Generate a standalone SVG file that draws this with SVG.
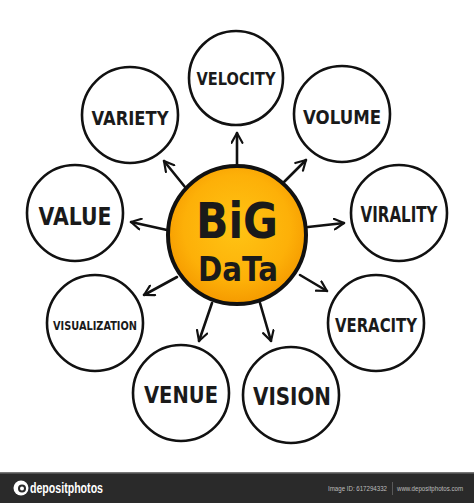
<svg xmlns="http://www.w3.org/2000/svg" width="474" height="503" viewBox="0 0 474 503">
<defs>
<style>
.node{fill:#fff;stroke:#111;stroke-width:2.6}
.lbl{font-family:"DejaVu Sans","Liberation Sans",sans-serif;font-weight:bold;fill:#1a1a1a;text-anchor:middle}
.conn{stroke:#111;stroke-width:2.6;fill:none;stroke-linecap:round;marker-end:url(#arr)}
.big{font-family:"DejaVu Sans","Liberation Sans",sans-serif;font-weight:bold;fill:#1a1a1a;text-anchor:middle}
.foot{font-family:"Liberation Sans",Arial,sans-serif}
</style>
<marker id="arr" viewBox="0 0 12 12" refX="10" refY="6" markerWidth="5" markerHeight="5" orient="auto" markerUnits="strokeWidth">
<path d="M1,1 L10,6 L1,11" fill="none" stroke="#111" stroke-width="2" stroke-linecap="round" stroke-linejoin="round"/>
</marker>
<radialGradient id="og" cx="50%" cy="45%" r="55%">
<stop offset="0" stop-color="#FFC414"/>
<stop offset="0.7" stop-color="#FDB008"/>
<stop offset="1" stop-color="#F59A00"/>
</radialGradient>
</defs>
<rect width="474" height="503" fill="#fff"/>
<g id="connectors">
<line class="conn" x1="237" y1="165" x2="237" y2="133"/>
<line class="conn" x1="185" y1="187" x2="164" y2="161"/>
<line class="conn" x1="283" y1="183" x2="306" y2="160"/>
<line class="conn" x1="167" y1="230" x2="131" y2="222"/>
<line class="conn" x1="308" y1="227" x2="344" y2="223"/>
<line class="conn" x1="177" y1="277" x2="144" y2="295"/>
<line class="conn" x1="300" y1="275" x2="327" y2="291"/>
<line class="conn" x1="212" y1="303" x2="199" y2="341"/>
<line class="conn" x1="260" y1="303" x2="271" y2="341"/>
</g>
<g id="center">
<circle cx="237" cy="235" r="69" fill="url(#og)" stroke="#111" stroke-width="4"/>
<text class="big" x="237" y="238" font-size="50" textLength="82" lengthAdjust="spacingAndGlyphs">BiG</text>
<text class="big" x="238" y="281" font-size="33" textLength="80" lengthAdjust="spacingAndGlyphs">DaTa</text>
</g>
<g id="velocity"><circle class="node" cx="236" cy="78" r="47"/><text class="lbl" x="236" y="85" font-size="18" textLength="79" lengthAdjust="spacingAndGlyphs">VELOCITY</text></g>
<g id="volume"><circle class="node" cx="342" cy="114" r="48"/><text class="lbl" x="342" y="124" font-size="20" textLength="78" lengthAdjust="spacingAndGlyphs">VOLUME</text></g>
<g id="variety"><circle class="node" cx="130" cy="115" r="48"/><text class="lbl" x="130" y="125" font-size="20" textLength="77" lengthAdjust="spacingAndGlyphs">VARIETY</text></g>
<g id="value"><circle class="node" cx="75" cy="213" r="48"/><text class="lbl" x="75" y="225" font-size="24" textLength="73" lengthAdjust="spacingAndGlyphs">VALUE</text></g>
<g id="virality"><circle class="node" cx="399" cy="213" r="48"/><text class="lbl" x="399" y="222" font-size="21" textLength="77" lengthAdjust="spacingAndGlyphs">VIRALITY</text></g>
<g id="visualization"><circle class="node" cx="95" cy="323" r="48"/><text class="lbl" x="95" y="329.5" font-size="13" textLength="84" lengthAdjust="spacingAndGlyphs">VISUALIZATION</text></g>
<g id="veracity"><circle class="node" cx="376" cy="323" r="48"/><text class="lbl" x="376" y="332" font-size="20" textLength="82" lengthAdjust="spacingAndGlyphs">VERACITY</text></g>
<g id="venue"><circle class="node" cx="181" cy="393" r="48"/><text class="lbl" x="181" y="403" font-size="23" textLength="74" lengthAdjust="spacingAndGlyphs">VENUE</text></g>
<g id="vision"><circle class="node" cx="291" cy="395" r="48"/><text class="lbl" x="292" y="405" font-size="24" textLength="78" lengthAdjust="spacingAndGlyphs">VISION</text></g>
<g id="footer">
<rect x="0" y="473" width="474" height="30" fill="#2a2a2a"/>
<rect x="0" y="472" width="474" height="1.5" fill="#777"/>
<circle cx="21" cy="488" r="7.5" fill="#fff"/>
<circle cx="22" cy="488.5" r="4" fill="#2a2a2a"/>
<circle cx="22" cy="488.5" r="2" fill="#fff"/>
<text class="foot" x="30" y="492.5" font-size="14.5" font-weight="bold" fill="#fff" textLength="73" lengthAdjust="spacingAndGlyphs">depositphotos</text>
<text class="foot" x="328" y="490.5" font-size="7" fill="#bdbdbd" textLength="59" lengthAdjust="spacingAndGlyphs">Image ID: 617294332</text>
<rect x="392" y="482" width="0.8" height="13" fill="#666"/>
<text class="foot" x="397" y="490.5" font-size="7" fill="#bdbdbd" textLength="66" lengthAdjust="spacingAndGlyphs">www.depositphotos.com</text>
</g>
</svg>
